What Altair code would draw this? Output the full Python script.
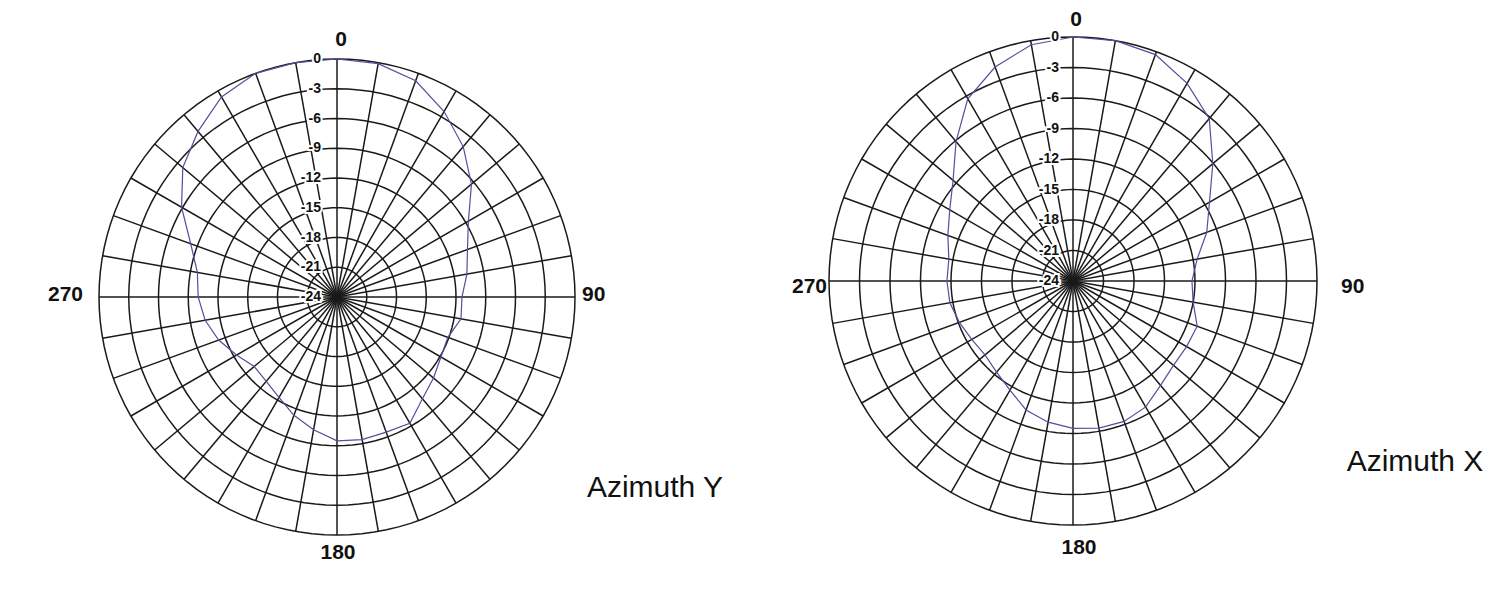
import altair as alt
import pandas as pd

# ---------------- data ----------------
angles = list(range(0, 360, 10))
azimuth_y = [0, -0.1, -0.8, -2.4, -4.2, -6.3, -8.7, -10.0, -10.7, -11.4,
             -11.3, -12.1, -11.9, -11.3, -10.6, -9.3, -9.5, -9.4, -9.5,
             -10.4, -11.3, -12.3, -12.9, -13.1, -12.3, -11.3, -10.5, -10.0,
             -9.7, -8.3, -5.9, -3.7, -2.2, -0.7, 0.0, 0.0]
azimuth_x = [0, 0.0, -0.3, -1.55, -3.15, -6.05, -8.5, -10.0, -11.6, -12.3,
             -12.0, -11.0, -11.1, -11.1, -10.6, -9.7, -9.3, -9.3, -9.5,
             -9.9, -10.5, -11.6, -12.3, -12.7, -12.5, -12.1, -11.7, -11.6,
             -11.6, -10.9, -10.0, -8.6, -6.1, -3.3, -1.6, -0.4]
ring_levels = [0, -3, -6, -9, -12, -15, -18, -21]
label_levels = [0, -3, -6, -9, -12, -15, -18, -21, -24]
label_texts = ["0", "-3", "-6", "-9", "-12", "-15", "-18", "-21", "-24"]
spoke_angles = list(range(0, 360, 10))
cardinal_texts = ["0", "90", "180", "270"]
cardinal_angles = [0, 90, 180, 270]
DB_MIN = -24
SPAN = 24

GRID = "#1a1a1a"
PATTERN = "#50509e"
FONT = "Liberation Sans"

# ---------------- helper tables ----------------
ring_rows = [{"level": lv, "angle": a, "db": lv}
             for lv in ring_levels for a in range(0, 361, 3)]
ring_df = pd.DataFrame(ring_rows)
spoke_df = pd.DataFrame({"angle": spoke_angles})
lab_df = pd.DataFrame({"db": label_levels, "text": label_texts})
card_df = pd.DataFrame({"text": cardinal_texts, "angle": cardinal_angles})


def pattern_df(vals):
    return pd.DataFrame({"angle": angles + [360], "db": vals + [vals[0]]})


def to_xy(ch):
    return ch.transform_calculate(
        r=f"datum.db - ({DB_MIN})"
    ).transform_calculate(
        px="datum.r * sin(datum.angle * PI / 180)",
        py="datum.r * cos(datum.angle * PI / 180)",
    )


def panel(vals, W, H, cx, cy, R, title, tx, ty, offs):
    k = R / SPAN
    xs = alt.Scale(domain=[-cx / k, (W - cx) / k], nice=False, zero=False)
    ys = alt.Scale(domain=[-(H - cy) / k, cy / k], nice=False, zero=False)
    X = lambda f: alt.X(f, scale=xs, axis=None)
    Y = lambda f: alt.Y(f, scale=ys, axis=None)

    rings = to_xy(alt.Chart(ring_df)).mark_line(
        color=GRID, strokeWidth=1.5
    ).encode(x=X("px:Q"), y=Y("py:Q"), detail="level:N", order="angle:Q")

    spokes = alt.Chart(spoke_df).transform_calculate(
        z="0",
        ex=f"{SPAN} * sin(datum.angle * PI / 180)",
        ey=f"{SPAN} * cos(datum.angle * PI / 180)",
    ).mark_rule(color=GRID, strokeWidth=1.5).encode(
        x=X("z:Q"), y=Y("z:Q"), x2="ex:Q", y2="ey:Q"
    )

    pattern = to_xy(alt.Chart(pattern_df(vals))).mark_line(
        color=PATTERN, strokeWidth=1.2
    ).encode(x=X("px:Q"), y=Y("py:Q"), order="angle:Q")

    labbase = alt.Chart(lab_df).transform_calculate(
        z="0", r=f"datum.db - ({DB_MIN})"
    )
    halo = labbase.mark_text(
        align="right", baseline="middle", dx=-offs["lab"], font=FONT,
        fontSize=14, fontWeight="bold", stroke="white", strokeWidth=4,
        color="white"
    ).encode(x=X("z:Q"), y=Y("r:Q"), text="text:N")
    labels = labbase.mark_text(
        align="right", baseline="middle", dx=-offs["lab"], font=FONT,
        fontSize=14, fontWeight="bold", color="#111"
    ).encode(x=X("z:Q"), y=Y("r:Q"), text="text:N")

    cbase = alt.Chart(card_df).transform_calculate(
        cx=f"{SPAN} * sin(datum.angle * PI / 180)",
        cy=f"{SPAN} * cos(datum.angle * PI / 180)",
    )
    card_layers = []
    specs = {
        0: dict(align="center", dx=offs["top"][0], dy=offs["top"][1]),
        180: dict(align="center", dx=offs["bottom"][0], dy=offs["bottom"][1]),
        90: dict(align="left", dx=offs["right"][0], dy=offs["right"][1]),
        270: dict(align="right", dx=offs["left"][0], dy=offs["left"][1]),
    }
    for ang, sp in specs.items():
        card_layers.append(
            cbase.transform_filter(f"datum.angle == {ang}").mark_text(
                baseline="middle", font=FONT, fontSize=21, fontWeight="bold",
                color="#111", **sp
            ).encode(x=X("cx:Q"), y=Y("cy:Q"), text="text:N")
        )

    ttl = alt.Chart(pd.DataFrame({"t": [title]})).mark_text(
        align="center", baseline="alphabetic", font=FONT, fontSize=30,
        color="#111"
    ).encode(x=alt.value(tx), y=alt.value(ty), text="t:N")

    return alt.layer(rings, spokes, pattern, halo, labels, *card_layers, ttl
                     ).properties(width=W, height=H)


H = 576
left = panel(
    azimuth_y, 700, H, 329, 289, 238, "Azimuth Y", 647, 489,
    dict(lab=16, top=(4, -19), bottom=(1, 18), right=(7, -2), left=(-16, -2)),
)
right = panel(
    azimuth_x, 780, H, 365, 273, 244, "Azimuth X", 707, 463,
    dict(lab=14, top=(3, -17), bottom=(6, 23), right=(24, 6), left=(-2, 6)),
)

chart = alt.hconcat(left, right, spacing=0, bounds="flush").properties(
    padding=0, background="white"
).configure_view(stroke=None, strokeWidth=0)

chart.save("out.html", embed_options={"renderer": "svg", "actions": False})
